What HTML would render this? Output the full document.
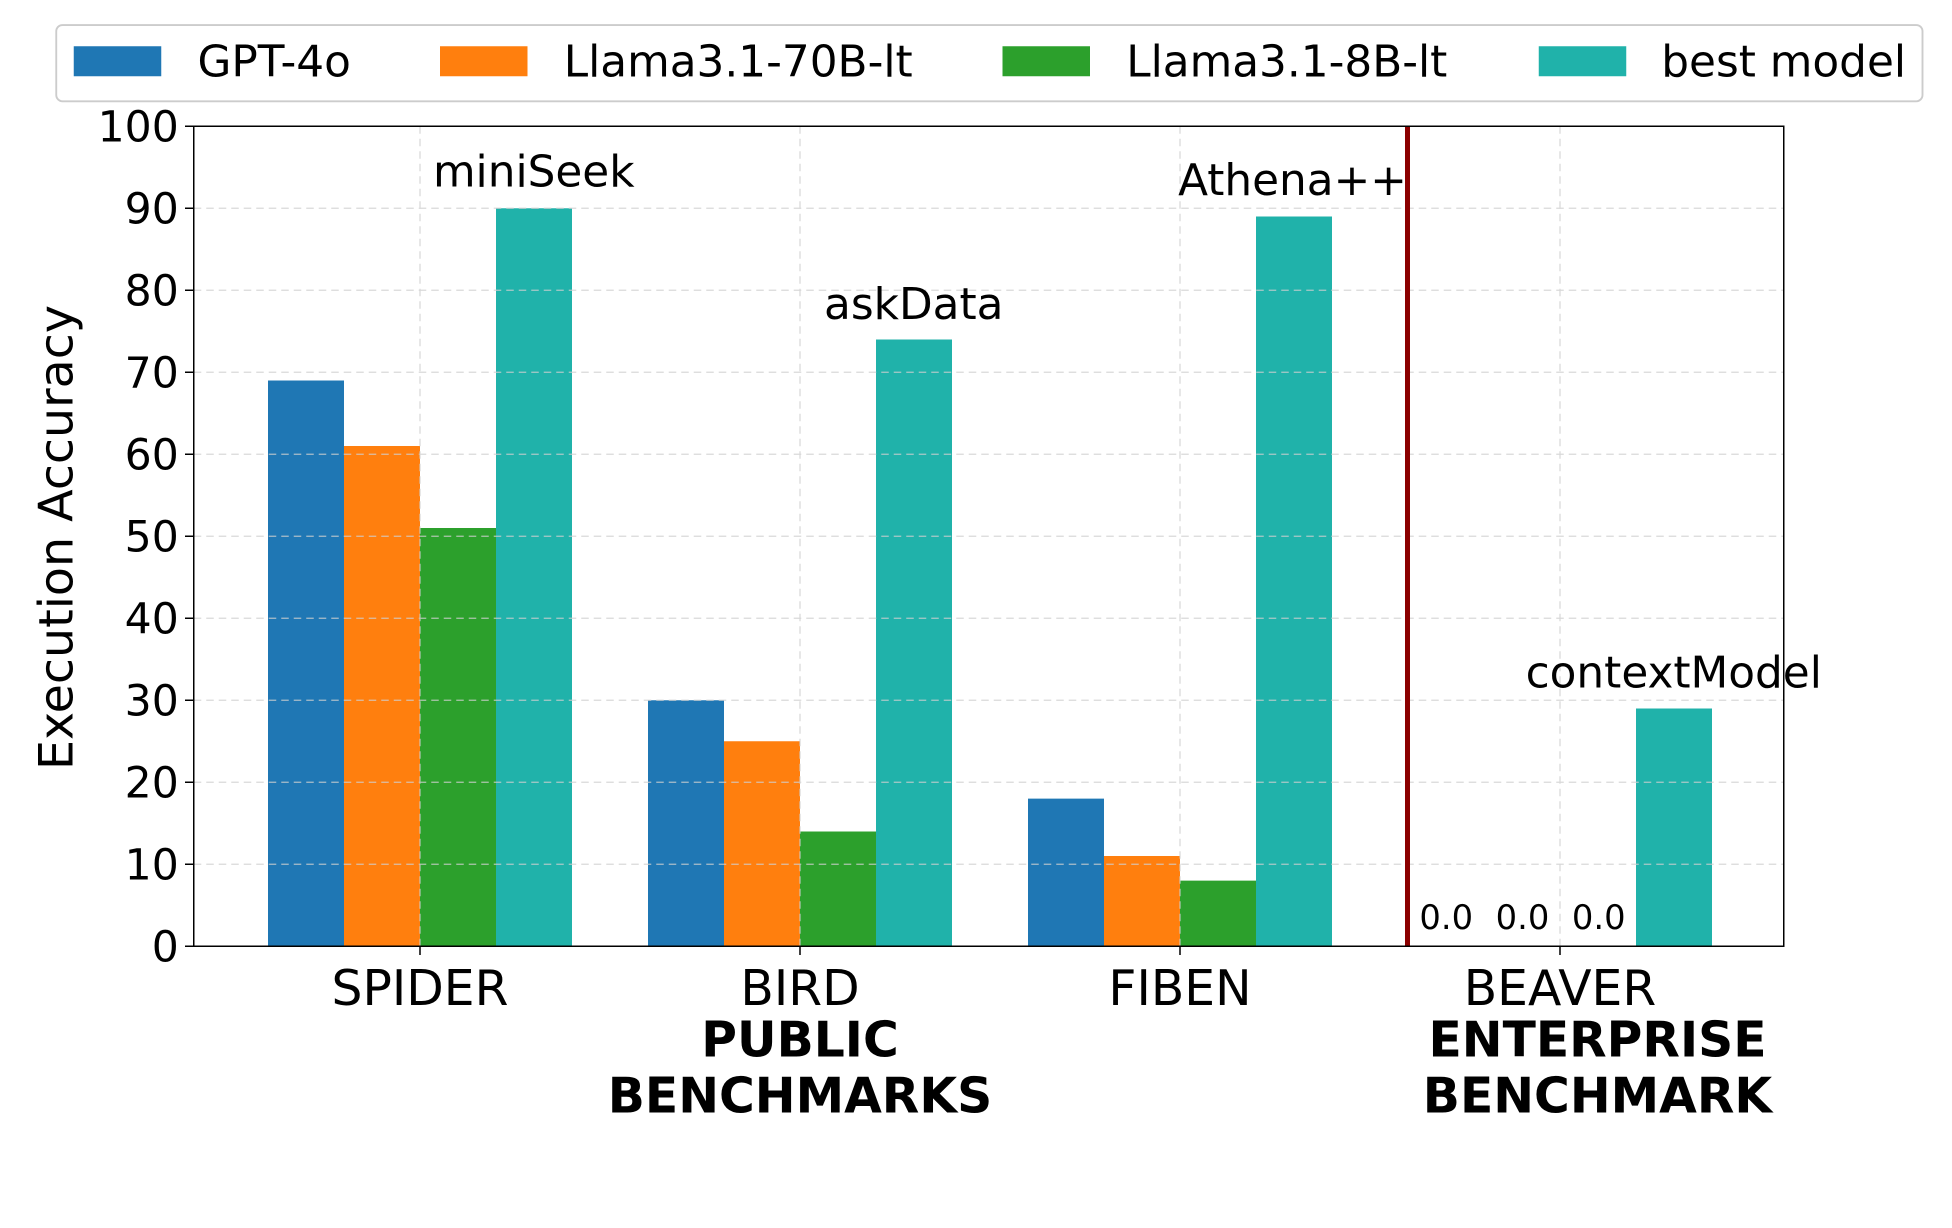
<!DOCTYPE html>
<html><head><style>html,body{margin:0;padding:0;background:#fff}svg{display:block}</style></head>
<body>
<svg width="1952" height="1228" viewBox="0 0 1561.6 982.4" xmlns="http://www.w3.org/2000/svg" font-family="DejaVu Sans, Liberation Sans, sans-serif">
<rect x="0" y="0" width="1561.6" height="982.4" fill="#fff"/>
<g>
<rect x="214.4" y="304.4" width="60.8" height="452.6" fill="#1f77b4"/>
<rect x="275.2" y="356.8" width="60.8" height="400.2" fill="#ff7f0e"/>
<rect x="336" y="422.4" width="60.8" height="334.6" fill="#2ca02c"/>
<rect x="396.8" y="166.6" width="60.8" height="590.4" fill="#20b2aa"/>
<rect x="518.4" y="560.2" width="60.8" height="196.8" fill="#1f77b4"/>
<rect x="579.2" y="593" width="60.8" height="164" fill="#ff7f0e"/>
<rect x="640" y="665.2" width="60.8" height="91.8" fill="#2ca02c"/>
<rect x="700.8" y="271.6" width="60.8" height="485.4" fill="#20b2aa"/>
<rect x="822.4" y="638.9" width="60.8" height="118.1" fill="#1f77b4"/>
<rect x="883.2" y="684.8" width="60.8" height="72.2" fill="#ff7f0e"/>
<rect x="944" y="704.5" width="60.8" height="52.5" fill="#2ca02c"/>
<rect x="1004.8" y="173.2" width="60.8" height="583.8" fill="#20b2aa"/>
<rect x="1308.8" y="566.8" width="60.8" height="190.2" fill="#20b2aa"/>
</g>
<g stroke="#d0d0d0" stroke-width="1" stroke-dasharray="6,4" opacity="0.8">
<line x1="155" x2="1427" y1="691.4" y2="691.4"/><line x1="155" x2="1427" y1="625.8" y2="625.8"/>
<line x1="155" x2="1427" y1="560.2" y2="560.2"/><line x1="155" x2="1427" y1="494.6" y2="494.6"/>
<line x1="155" x2="1427" y1="429" y2="429"/><line x1="155" x2="1427" y1="363.4" y2="363.4"/>
<line x1="155" x2="1427" y1="297.8" y2="297.8"/><line x1="155" x2="1427" y1="232.2" y2="232.2"/>
<line x1="155" x2="1427" y1="166.6" y2="166.6"/>
<line x1="336" x2="336" y1="101" y2="757"/><line x1="640" x2="640" y1="101" y2="757"/>
<line x1="944" x2="944" y1="101" y2="757"/><line x1="1248" x2="1248" y1="101" y2="757"/>
</g>
<line x1="1126" x2="1126" y1="101" y2="757" stroke="#8b0000" stroke-width="4"/>
<rect x="155" y="101" width="1272" height="656" fill="none" stroke="#000" stroke-width="1.2"/>
<g stroke="#000" stroke-width="1.2">
<line x1="148" x2="155" y1="757" y2="757"/><line x1="148" x2="155" y1="691.4" y2="691.4"/><line x1="148" x2="155" y1="625.8" y2="625.8"/><line x1="148" x2="155" y1="560.2" y2="560.2"/><line x1="148" x2="155" y1="494.6" y2="494.6"/><line x1="148" x2="155" y1="429" y2="429"/><line x1="148" x2="155" y1="363.4" y2="363.4"/><line x1="148" x2="155" y1="297.8" y2="297.8"/><line x1="148" x2="155" y1="232.2" y2="232.2"/><line x1="148" x2="155" y1="166.6" y2="166.6"/><line x1="148" x2="155" y1="101" y2="101"/>
<line x1="336" x2="336" y1="757" y2="764"/><line x1="640" x2="640" y1="757" y2="764"/><line x1="944" x2="944" y1="757" y2="764"/><line x1="1248" x2="1248" y1="757" y2="764"/>
</g>
<g font-size="34" text-anchor="end" fill="#000">
<text x="143" y="769">0</text><text x="143" y="703.4">10</text><text x="143" y="637.8">20</text><text x="143" y="572.2">30</text><text x="143" y="506.6">40</text><text x="143" y="441">50</text><text x="143" y="375.4">60</text><text x="143" y="309.8">70</text><text x="143" y="244.2">80</text><text x="143" y="178.6">90</text><text x="143" y="113">100</text>
</g>
<text transform="translate(58,430) rotate(-90)" font-size="38" text-anchor="middle">Execution Accuracy</text>
<g font-size="39" text-anchor="middle">
<text x="336" y="804">SPIDER</text><text x="640" y="804">BIRD</text><text x="944" y="804">FIBEN</text><text x="1248" y="804">BEAVER</text>
</g>
<g font-size="39" font-weight="bold" text-anchor="middle">
<text x="640" y="845">PUBLIC</text><text x="640" y="890">BENCHMARKS</text>
<text x="1278" y="845">ENTERPRISE</text><text x="1278" y="890">BENCHMARK</text>
</g>
<g font-size="35" text-anchor="middle">
<text x="427" y="149">miniSeek</text><text x="731" y="255">askData</text><text x="1034" y="156">Athena++</text><text x="1339" y="550">contextModel</text>
</g>
<g font-size="27" text-anchor="middle">
<text x="1157" y="743">0.0</text><text x="1218" y="743">0.0</text><text x="1279" y="743">0.0</text>
</g>
<rect x="45" y="20" width="1493" height="61" rx="5" fill="#fff" stroke="#ccc" stroke-width="1.5"/>
<rect x="59" y="37" width="70" height="24" fill="#1f77b4"/>
<rect x="352" y="37" width="70" height="24" fill="#ff7f0e"/>
<rect x="802" y="37" width="70" height="24" fill="#2ca02c"/>
<rect x="1231" y="37" width="70" height="24" fill="#20b2aa"/>
<g font-size="35">
<text x="158" y="61">GPT-4o</text><text x="451" y="61">Llama3.1-70B-lt</text><text x="901" y="61">Llama3.1-8B-lt</text><text x="1329" y="61">best model</text>
</g>
</svg>
</body></html>
